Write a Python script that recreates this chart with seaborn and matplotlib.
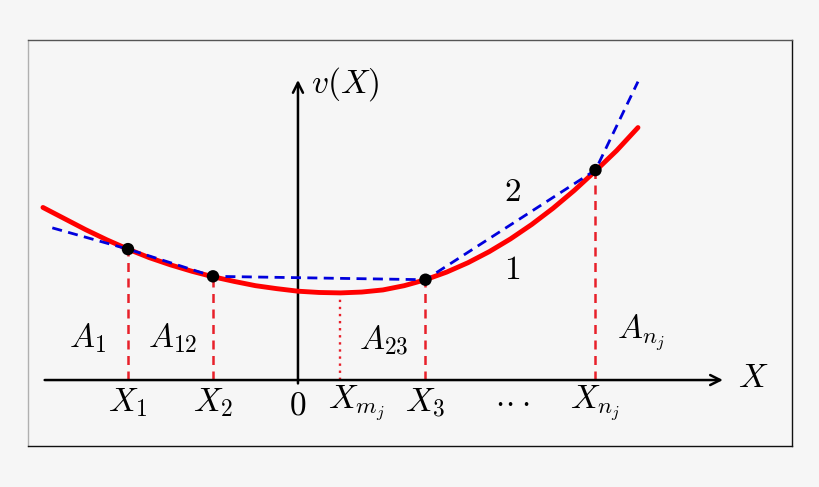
import matplotlib
matplotlib.use("Agg")
import matplotlib.pyplot as plt
import seaborn as sns

# Curve v(X) (1 unit ~ 85 px)
curve_x = [-3.0, -2.75, -2.5, -2.25, -2.0, -1.75, -1.5, -1.25, -1.0, -0.75, -0.5, -0.25,
           0.0, 0.25, 0.5, 0.75, 1.0, 1.25, 1.5, 1.75, 2.0, 2.25, 2.5, 2.75, 3.0, 3.25,
           3.5, 3.75, 4.0]
curve_v = [2.03, 1.90, 1.77, 1.65, 1.54, 1.44, 1.355, 1.28, 1.215, 1.16, 1.11, 1.075,
           1.045, 1.03, 1.025, 1.035, 1.06, 1.11, 1.18, 1.27, 1.38, 1.51, 1.66, 1.83, 2.02, 2.23,
           2.46, 2.70, 2.97]

# Piecewise linear approximation (dashed blue)
poly_x = [-2.89, -2.0, -1.0, 1.5, 3.5, 4.0]
poly_v = [1.79, 1.54, 1.22, 1.18, 2.47, 3.51]

# Grid points
knot_x = [-2.0, -1.0, 1.5, 3.5]
knot_v = [1.54, 1.22, 1.18, 2.47]
knot_labels = ["$X_1$", "$X_2$", "$X_3$", "$X_{n_j}$"]

# midpoint
mid_x = 0.5
mid_v = 0.96

area_labels = ["$A_1$", "$A_{12}$", "$A_{23}$", "$A_{n_j}$"]
area_x = [-2.48, -1.48, 1.01, 4.03]
area_y = [0.49, 0.49, 0.47, 0.55]

bg = "#f6f6f6"
sns.set_theme(style="white")
plt.rcParams["mathtext.fontset"] = "cm"
plt.rcParams["font.family"] = ["DejaVu Serif"]
plt.rcParams["text.color"] = "black"

fig = plt.figure(figsize=(8.2, 4.87), dpi=100, facecolor=bg)
ax = fig.add_axes([28 / 820, 41 / 487, 764 / 820, 406 / 487])
ax.set_facecolor(bg)
ax.set_xlim(-3.176, 5.812)
ax.set_ylim(-0.776, 4.0)
ax.set_xticks([])
ax.set_yticks([])
for side, col in [("top", "#555555"), ("left", "#b0b0b0"), ("bottom", "#111111"), ("right", "#111111")]:
    ax.spines[side].set_visible(True)
    ax.spines[side].set_color(col)
    ax.spines[side].set_linewidth(1.0)

# axes with arrows
ax.annotate("", xy=(5.0, 0), xytext=(-2.98, 0),
            arrowprops=dict(arrowstyle="->", lw=1.8, color="black",
                            mutation_scale=18, shrinkA=0, shrinkB=0))
ax.annotate("", xy=(0, 3.53), xytext=(0, -0.04),
            arrowprops=dict(arrowstyle="->", lw=1.8, color="black",
                            mutation_scale=18, shrinkA=0, shrinkB=0))

# vertical guides
ax.vlines(knot_x, 0, knot_v, colors="#e8202a", linestyles=(0, (3.6, 2.6)), lw=1.8, zorder=2)
ax.vlines([mid_x], 0, [mid_v], colors="#e8202a", linestyles=(0, (1, 2.0)), lw=1.7, zorder=2)

sns.lineplot(x=curve_x, y=curve_v, sort=False, ax=ax, color="#ff0000", lw=3.5, zorder=3)
sns.lineplot(x=poly_x, y=poly_v, sort=False, ax=ax, color="#0000dd", lw=2.0, zorder=4,
             linestyle=(0, (3.6, 2.3)))
sns.scatterplot(x=knot_x, y=knot_v, ax=ax, color="black", s=80, zorder=5, edgecolor="none")

fs = 24
for xx, lab in zip(knot_x, knot_labels):
    ax.text(xx, -0.27, lab, ha="center", va="center", fontsize=fs)
ax.text(0, -0.30, "$0$", ha="center", va="center", fontsize=fs)
ax.text(0.69, -0.27, "$X_{m_j}$", ha="center", va="center", fontsize=fs)
ax.text(2.52, -0.25, r"$\cdot\!\cdot\!\cdot$", ha="center", va="center", fontsize=fs)
for xx, yy, lab in zip(area_x, area_y, area_labels):
    ax.text(xx, yy, lab, ha="center", va="center", fontsize=fs)

ax.text(0.15, 3.48, "$v(X)$", ha="left", va="center", fontsize=fs)
ax.text(5.18, 0.02, "$X$", ha="left", va="center", fontsize=fs)
ax.text(2.52, 2.21, "$2$", ha="center", va="center", fontsize=fs)
ax.text(2.52, 1.29, "$1$", ha="center", va="center", fontsize=fs)

fig.savefig("out.png", dpi=100, facecolor=bg)
